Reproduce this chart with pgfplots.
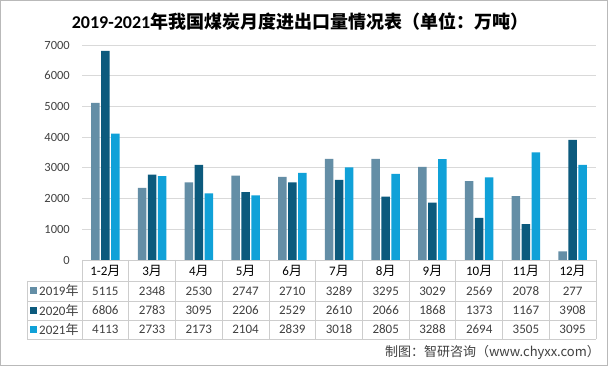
\documentclass[border=0pt]{standalone}
\usepackage{fontspec}
\setmainfont{Carlito}
\newfontfamily\cjk{Noto Sans CJK SC}
\usepackage{pgfplots}
\usepackage{pgfplotstable}
\pgfplotsset{compat=1.18}
\definecolor{cA}{RGB}{100,142,166}
\definecolor{cB}{RGB}{12,90,125}
\definecolor{cC}{RGB}{16,161,216}
\definecolor{gridc}{RGB}{217,217,217}
\definecolor{tabc}{RGB}{205,205,205}
\definecolor{txt}{RGB}{64,64,64}

\pgfplotstableread{
x lab a b c
0 1-2 5115 6806 4113
1 3 2348 2783 2733
2 4 2530 3095 2173
3 5 2747 2206 2104
4 6 2710 2529 2839
5 7 3289 2610 3018
6 8 3295 2066 2805
7 9 3029 1868 3288
8 10 2569 1373 2694
9 11 2078 1167 3505
10 12 277 3908 3095
}\data

\begin{document}
\begin{tikzpicture}
\begin{scope}[x=1pt,y=1pt]
\useasboundingbox (0,0) rectangle (608,366);
\fill[white] (0,0) rectangle (608,366);
\draw[gray!55, line width=1pt] (0.5,0.5) rectangle (607.5,365.5);
\node[font=\fontsize{18}{18}\selectfont\bfseries, text=black] at (300,344) {2019-2021{\cjk 年我国煤炭月度进出口量情况表（单位：万吨）}};
\end{scope}
\begin{axis}[
  at={(82pt,106pt)}, anchor=south west,
  scale only axis, width=514pt, height=215pt,
  xmin=-0.5, xmax=10.5, ymin=0, ymax=7000,
  ytick={0,1000,...,7000}, xtick=\empty,
  ymajorgrids, grid style={gridc, line width=0.8pt},
  axis line style={draw=none}, major tick length=0pt,
  /pgf/number format/assume math mode=true,
  /pgf/number format/1000 sep={},
  yticklabel style={font=\fontsize{12.5}{12.5}\selectfont, text=txt, anchor=east, inner sep=0pt, xshift=-12pt},
  ybar=1.5pt, bar width=8.5pt,
  clip=false,
]
\addplot[fill=cA, draw=none] table[x=x,y=a]{\data};
\addplot[fill=cB, draw=none] table[x=x,y=b]{\data};
\addplot[fill=cC, draw=none] table[x=x,y=c]{\data};
\end{axis}
\begin{scope}[x=1pt,y=1pt]
\draw[tabc, line width=0.8pt] (82,106) -- (596,106);
\foreach \yy in {85,65,46,27} {\draw[tabc, line width=0.8pt] (27,\yy) -- (596,\yy);}
\draw[tabc, line width=0.8pt] (27,85) -- (27,27);
\foreach \k in {0,...,11} {\draw[tabc, line width=0.8pt] ({82+46.727*\k},106) -- ({82+46.727*\k},27);}
\foreach \i in {0,...,10} {
  \pgfplotstablegetelem{\i}{lab}\of\data
  \node[font=\fontsize{13}{13}\selectfont, text=black] at ({82+46.727*(\i+0.5)},95) {\pgfplotsretval{\cjk 月}};
  \pgfplotstablegetelem{\i}{a}\of\data
  \node[font=\fontsize{13}{13}\selectfont, text=txt] at ({82+46.727*(\i+0.5)},75) {\pgfplotsretval};
  \pgfplotstablegetelem{\i}{b}\of\data
  \node[font=\fontsize{13}{13}\selectfont, text=txt] at ({82+46.727*(\i+0.5)},55.5) {\pgfplotsretval};
  \pgfplotstablegetelem{\i}{c}\of\data
  \node[font=\fontsize{13}{13}\selectfont, text=txt] at ({82+46.727*(\i+0.5)},36.5) {\pgfplotsretval};
}
\fill[cA] (30,71.5) rectangle (37,78.5);
\fill[cB] (30,52) rectangle (37,59);
\fill[cC] (30,33) rectangle (37,40);
\node[anchor=west, font=\fontsize{13}{13}\selectfont, text=txt, inner sep=0pt] at (39,75) {2019{\cjk 年}};
\node[anchor=west, font=\fontsize{13}{13}\selectfont, text=txt, inner sep=0pt] at (39,55.5) {2020{\cjk 年}};
\node[anchor=west, font=\fontsize{13}{13}\selectfont, text=txt, inner sep=0pt] at (39,36.5) {2021{\cjk 年}};
\node[anchor=east, font=\fontsize{13}{13}\selectfont\cjk, text=txt, inner sep=0pt] at (600,14) {制图：智研咨询（www.chyxx.com）};
\end{scope}
\end{tikzpicture}
\end{document}
